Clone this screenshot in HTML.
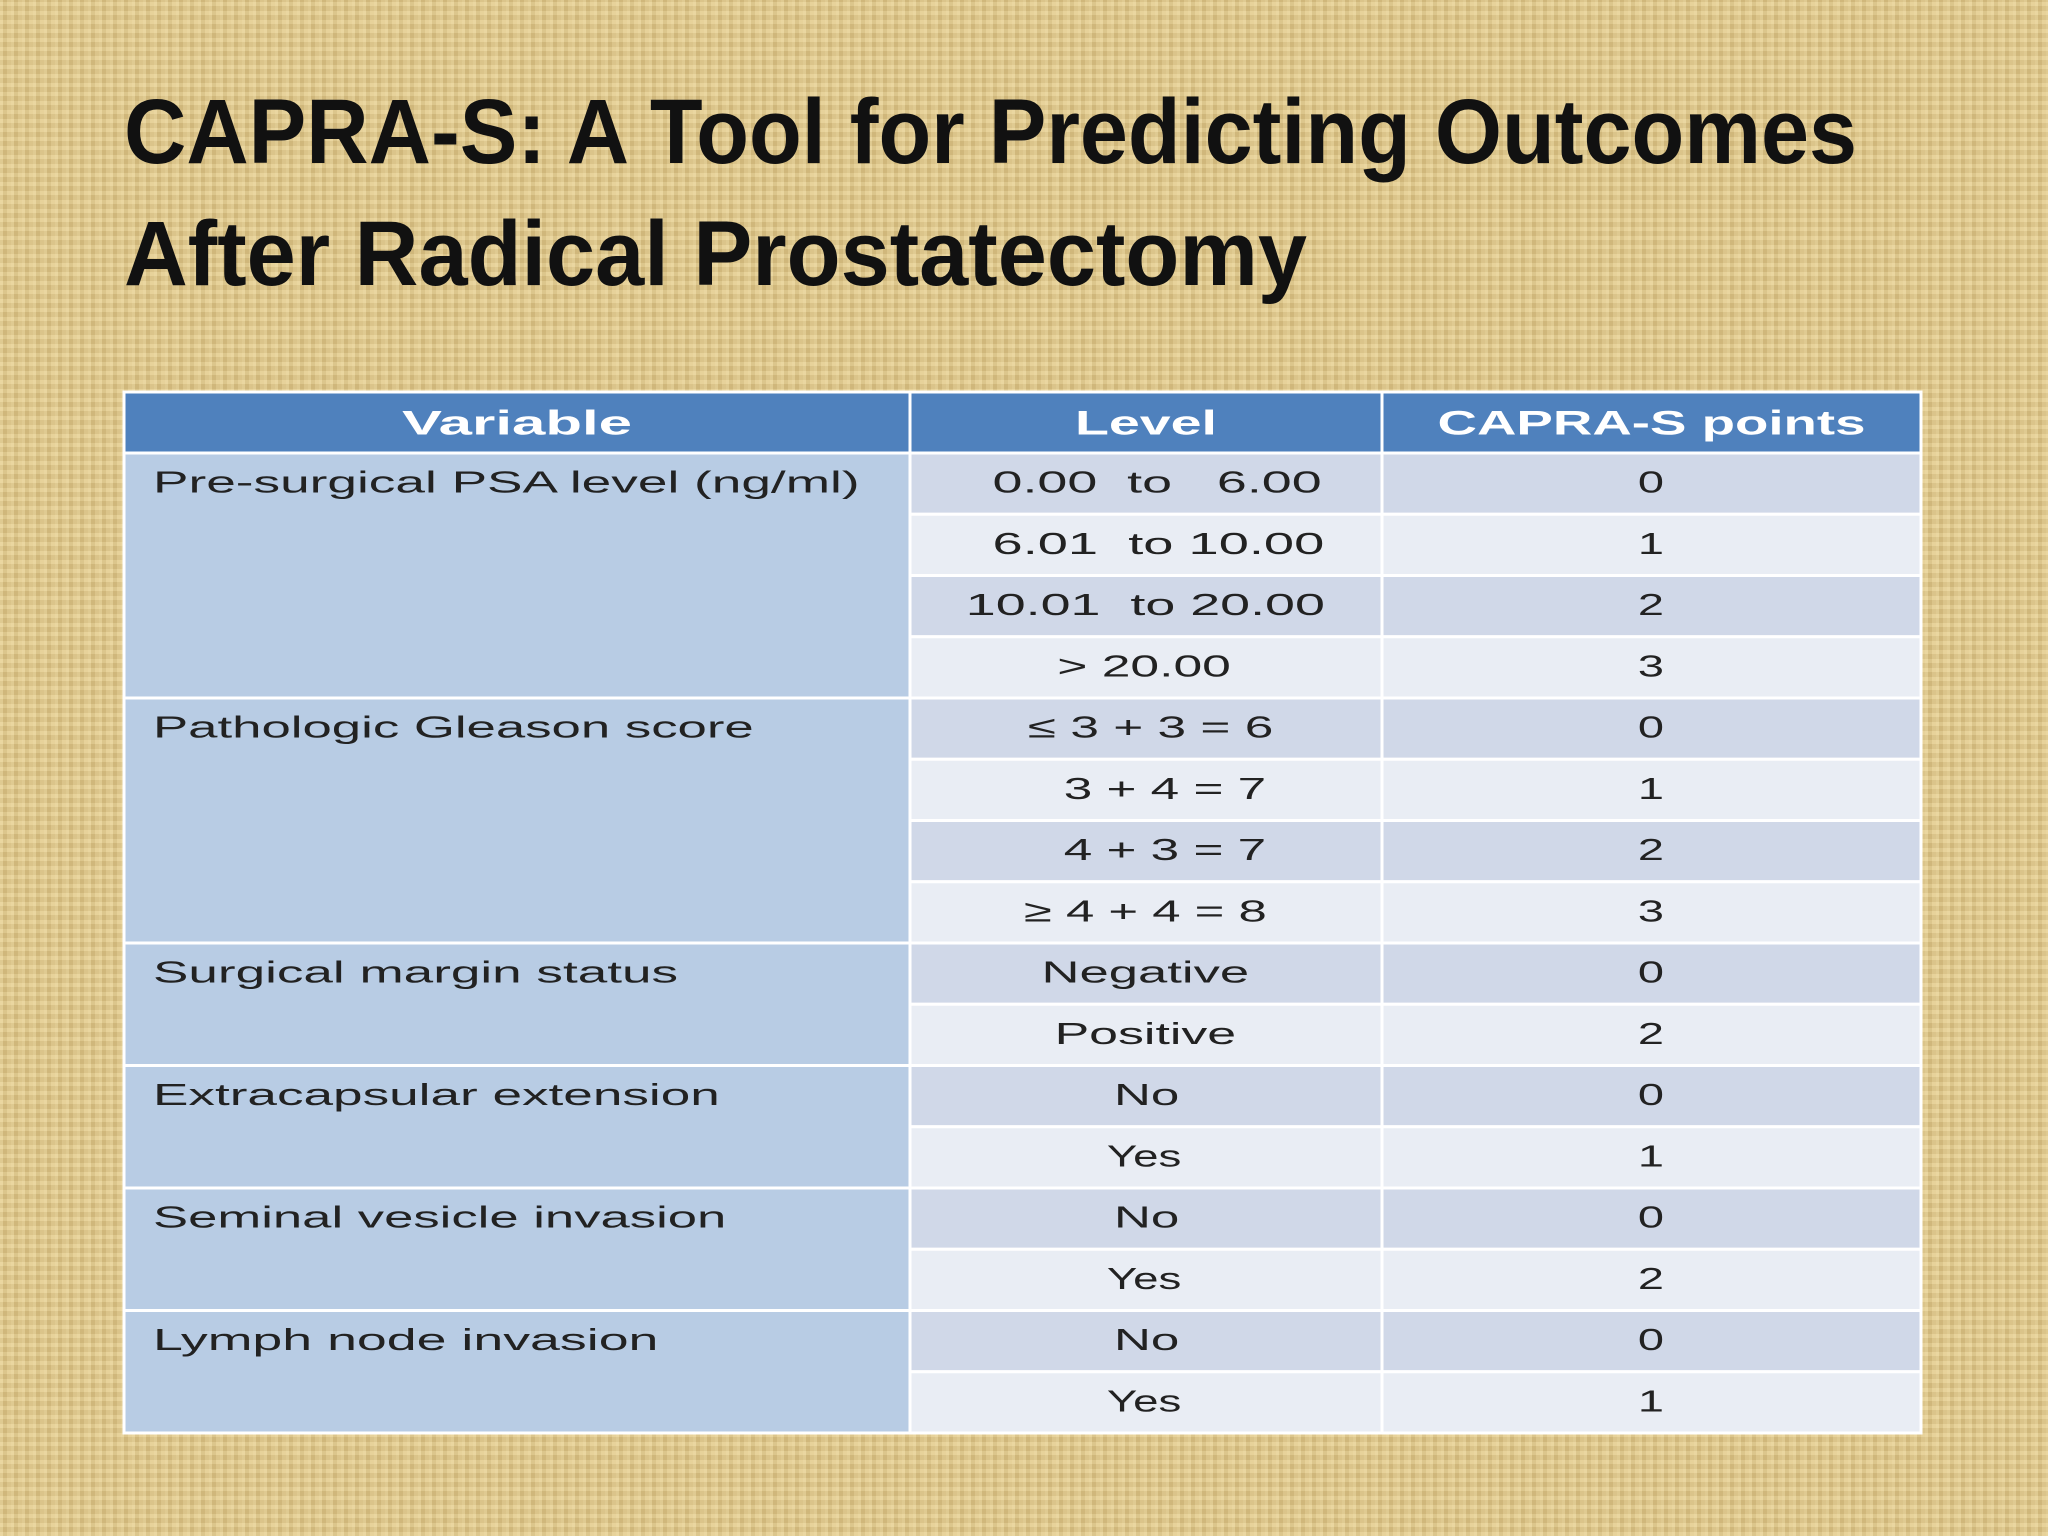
<!DOCTYPE html>
<html><head><meta charset="utf-8">
<style>
html,body{margin:0;padding:0;}
body{width:2048px;height:1536px;overflow:hidden;background:#dcc58c;
background-image:
repeating-linear-gradient(90deg,rgba(255,240,190,0.25) 0 3px,rgba(170,140,70,0.12) 3px 7px,rgba(255,235,180,0.15) 7px 11px),
repeating-linear-gradient(0deg,rgba(255,240,190,0.2) 0 4px,rgba(160,130,60,0.12) 4px 9px);
}
svg{position:absolute;left:0;top:0;}
.pre{white-space:pre;}
</style></head>
<body>
<svg width="2048" height="1536" font-family="'Liberation Sans', sans-serif">
 <g font-weight="bold" font-size="92" fill="#111">
  <text x="124" y="163" textLength="1733" lengthAdjust="spacingAndGlyphs">CAPRA-S: A Tool for Predicting Outcomes</text>
  <text x="124" y="285" textLength="1183" lengthAdjust="spacingAndGlyphs">After Radical Prostatectomy</text>
 </g>
 <g id="tbl"></g>
</svg>
<script>
const S=1.306;
const groups=[["Pre-surgical PSA level (ng/ml)",4,541],["Pathologic Gleason score",4,460],["Surgical margin status",2,402],["Extracapsular extension",2,434],["Seminal vesicle invasion",2,439],["Lymph node invasion",2,387]];
const levels=["0.00  to   6.00","6.01  to 10.00","10.01  to 20.00","> 20.00","≤ 3 + 3 = 6","3 + 4 = 7","4 + 3 = 7","≥ 4 + 4 = 8","Negative","Positive","No","Yes","No","Yes","No","Yes"];
const levelLen=[252,254,275,133,188,155,155,186,159,139,50,57,50,57,50,57];
const levelCenter=[886,887,877,876,881,892,892,877,877,877,878,876,878,876,878,876];
const points=[0,1,2,3,0,1,2,3,0,2,0,1,0,2,0,1];
const ns="http://www.w3.org/2000/svg";
const g=document.getElementById('tbl');
const X0=124,X1=910,X2=1382,X3=1921,Y0=392,HH=61,RH=(1433-453)/16;
function mk(t,a,p){const e=document.createElementNS(ns,t);for(const k in a)e.setAttribute(k,a[k]);(p||g).appendChild(e);return e;}
const hdr=mk('rect',{x:X0,y:Y0,width:X3-X0,height:HH,fill:'#4f81bd',stroke:'#fff','stroke-width':3});


[[X0,X1,"Variable",230],[X1,X2,"Level",142],[X2,X3,"CAPRA-S points",428]].forEach(h=>{
 mk('rect',{x:h[0],y:Y0,width:h[1]-h[0],height:HH,fill:'none',stroke:'#fff','stroke-width':3});
 const t=mk('text',{x:(h[0]+h[1])/2,y:Y0+HH/2+12,'text-anchor':'middle','font-size':34,'font-weight':'bold',fill:'#fff',textLength:h[3],lengthAdjust:'spacingAndGlyphs'});
 t.textContent=h[2];
 
 
});
for(let i=0;i<16;i++){
 const y=453+i*RH;
 const fill=i%2==0?'#d0d8e8':'#e9edf4';
 mk('rect',{x:X1,y:y,width:X2-X1,height:RH,fill:fill,stroke:'#fff','stroke-width':3});
 mk('rect',{x:X2,y:y,width:X3-X2,height:RH,fill:fill,stroke:'#fff','stroke-width':3});
 const lt=mk('text',{x:levelCenter[i]*S,y:y+RH/2+9,'text-anchor':'middle','font-size':31,fill:'#222',textLength:levelLen[i]*S,lengthAdjust:'spacingAndGlyphs','class':'pre'});
 lt.textContent=levels[i];
 
 
 const pt=mk('text',{x:1651,y:y+RH/2+9,'text-anchor':'middle','font-size':31,fill:'#222',textLength:20*S,lengthAdjust:'spacingAndGlyphs'});
 pt.textContent=points[i];
 
 
}
let r=0;
groups.forEach(gr=>{
 const y=453+r*RH;
 mk('rect',{x:X0,y:y,width:X1-X0,height:gr[1]*RH,fill:'#b8cce4',stroke:'#fff','stroke-width':3});
 const t=mk('text',{x:153,y:y+RH/2+9,'font-size':31,fill:'#222',textLength:gr[2]*S,lengthAdjust:'spacingAndGlyphs'});
 t.textContent=gr[0];
 
 
 r+=gr[1];
});
</script>
</body></html>
